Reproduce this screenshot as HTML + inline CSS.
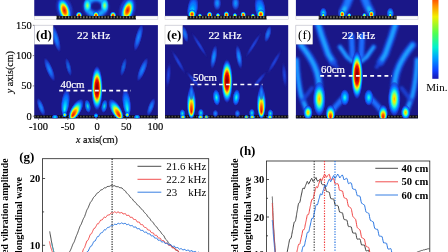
<!DOCTYPE html>
<html><head><meta charset="utf-8"><title>figure</title>
<style>
html,body{margin:0;padding:0;background:#fff;}
body{width:448px;height:252px;overflow:hidden;}
svg{display:block;font-family:"Liberation Serif","Times New Roman",serif;}
</style></head><body>
<svg width="448" height="252" viewBox="0 0 448 252">
<defs>
<radialGradient id="g5"><stop offset="0" stop-color="#800000"/><stop offset="0.2" stop-color="#b00000"/><stop offset="0.36" stop-color="#f01000"/><stop offset="0.45" stop-color="#ff8000"/><stop offset="0.52" stop-color="#ffe800"/><stop offset="0.6" stop-color="#70ff80"/><stop offset="0.69" stop-color="#00d8ff"/><stop offset="0.8" stop-color="#1070ff"/><stop offset="0.9" stop-color="#1a38d8" stop-opacity="0.7"/><stop offset="1" stop-color="#1a1788" stop-opacity="0"/></radialGradient>
<radialGradient id="g5f" fx="0.5" fy="0.78"><stop offset="0" stop-color="#800000"/><stop offset="0.2" stop-color="#b00000"/><stop offset="0.36" stop-color="#f01000"/><stop offset="0.45" stop-color="#ff8000"/><stop offset="0.52" stop-color="#ffe800"/><stop offset="0.6" stop-color="#70ff80"/><stop offset="0.69" stop-color="#00d8ff"/><stop offset="0.8" stop-color="#1070ff"/><stop offset="0.9" stop-color="#1a38d8" stop-opacity="0.7"/><stop offset="1" stop-color="#1a1788" stop-opacity="0"/></radialGradient>
<radialGradient id="g4"><stop offset="0" stop-color="#e01800"/><stop offset="0.2" stop-color="#ff5000"/><stop offset="0.32" stop-color="#ffa000"/><stop offset="0.42" stop-color="#fff000"/><stop offset="0.52" stop-color="#70ff80"/><stop offset="0.63" stop-color="#00d8ff"/><stop offset="0.77" stop-color="#1070ff"/><stop offset="0.9" stop-color="#1a38d8" stop-opacity="0.7"/><stop offset="1" stop-color="#1a1788" stop-opacity="0"/></radialGradient>
<radialGradient id="g4f" fx="0.5" fy="0.78"><stop offset="0" stop-color="#e01800"/><stop offset="0.2" stop-color="#ff5000"/><stop offset="0.32" stop-color="#ffa000"/><stop offset="0.42" stop-color="#fff000"/><stop offset="0.52" stop-color="#70ff80"/><stop offset="0.63" stop-color="#00d8ff"/><stop offset="0.77" stop-color="#1070ff"/><stop offset="0.9" stop-color="#1a38d8" stop-opacity="0.7"/><stop offset="1" stop-color="#1a1788" stop-opacity="0"/></radialGradient>
<radialGradient id="g3"><stop offset="0" stop-color="#ffb000"/><stop offset="0.16" stop-color="#ffe800"/><stop offset="0.3" stop-color="#a0ff50"/><stop offset="0.44" stop-color="#30ffd0"/><stop offset="0.58" stop-color="#00b8ff"/><stop offset="0.74" stop-color="#1068ff"/><stop offset="0.9" stop-color="#1a38d8" stop-opacity="0.7"/><stop offset="1" stop-color="#1a1788" stop-opacity="0"/></radialGradient>
<radialGradient id="g3f" fx="0.5" fy="0.78"><stop offset="0" stop-color="#ffb000"/><stop offset="0.16" stop-color="#ffe800"/><stop offset="0.3" stop-color="#a0ff50"/><stop offset="0.44" stop-color="#30ffd0"/><stop offset="0.58" stop-color="#00b8ff"/><stop offset="0.74" stop-color="#1068ff"/><stop offset="0.9" stop-color="#1a38d8" stop-opacity="0.7"/><stop offset="1" stop-color="#1a1788" stop-opacity="0"/></radialGradient>
<radialGradient id="g2"><stop offset="0" stop-color="#40ffc0"/><stop offset="0.22" stop-color="#00d8ff"/><stop offset="0.45" stop-color="#0090ff"/><stop offset="0.68" stop-color="#1060f8"/><stop offset="0.87" stop-color="#1a38d8" stop-opacity="0.7"/><stop offset="1" stop-color="#1a1788" stop-opacity="0"/></radialGradient>
<radialGradient id="g2f" fx="0.5" fy="0.78"><stop offset="0" stop-color="#40ffc0"/><stop offset="0.22" stop-color="#00d8ff"/><stop offset="0.45" stop-color="#0090ff"/><stop offset="0.68" stop-color="#1060f8"/><stop offset="0.87" stop-color="#1a38d8" stop-opacity="0.7"/><stop offset="1" stop-color="#1a1788" stop-opacity="0"/></radialGradient>
<radialGradient id="g3b"><stop offset="0" stop-color="#c0ff40"/><stop offset="0.25" stop-color="#60ffa0"/><stop offset="0.5" stop-color="#10e0ff"/><stop offset="0.75" stop-color="#10a0ff" stop-opacity="0.8"/><stop offset="1" stop-color="#1880ff" stop-opacity="0"/></radialGradient>
<radialGradient id="g3bf" fx="0.5" fy="0.78"><stop offset="0" stop-color="#c0ff40"/><stop offset="0.25" stop-color="#60ffa0"/><stop offset="0.5" stop-color="#10e0ff"/><stop offset="0.75" stop-color="#10a0ff" stop-opacity="0.8"/><stop offset="1" stop-color="#1880ff" stop-opacity="0"/></radialGradient>
<radialGradient id="g1"><stop offset="0" stop-color="#1488ff"/><stop offset="0.42" stop-color="#1668f4" stop-opacity="0.95"/><stop offset="0.76" stop-color="#1a40dc" stop-opacity="0.65"/><stop offset="1" stop-color="#1a1788" stop-opacity="0"/></radialGradient>
<radialGradient id="g1f" fx="0.5" fy="0.78"><stop offset="0" stop-color="#1488ff"/><stop offset="0.42" stop-color="#1668f4" stop-opacity="0.95"/><stop offset="0.76" stop-color="#1a40dc" stop-opacity="0.65"/><stop offset="1" stop-color="#1a1788" stop-opacity="0"/></radialGradient>
<radialGradient id="g1b"><stop offset="0" stop-color="#10a0ff"/><stop offset="0.4" stop-color="#1470f8" stop-opacity="0.95"/><stop offset="0.75" stop-color="#1a40d8" stop-opacity="0.6"/><stop offset="1" stop-color="#1a1788" stop-opacity="0"/></radialGradient>
<radialGradient id="g1bf" fx="0.5" fy="0.78"><stop offset="0" stop-color="#10a0ff"/><stop offset="0.4" stop-color="#1470f8" stop-opacity="0.95"/><stop offset="0.75" stop-color="#1a40d8" stop-opacity="0.6"/><stop offset="1" stop-color="#1a1788" stop-opacity="0"/></radialGradient>
<radialGradient id="g0"><stop offset="0" stop-color="#1c48e0"/><stop offset="0.5" stop-color="#1c34c8" stop-opacity="0.8"/><stop offset="1" stop-color="#1a1788" stop-opacity="0"/></radialGradient>
<radialGradient id="g0f" fx="0.5" fy="0.78"><stop offset="0" stop-color="#1c48e0"/><stop offset="0.5" stop-color="#1c34c8" stop-opacity="0.8"/><stop offset="1" stop-color="#1a1788" stop-opacity="0"/></radialGradient>
<linearGradient id="cb" x1="0" y1="0" x2="0" y2="1"><stop offset="0" stop-color="#ff3000"/><stop offset="0.12" stop-color="#ff9000"/><stop offset="0.25" stop-color="#f0f000"/><stop offset="0.45" stop-color="#50ff50"/><stop offset="0.62" stop-color="#00f0d0"/><stop offset="0.75" stop-color="#00a0ff"/><stop offset="0.9" stop-color="#1040ff"/><stop offset="1" stop-color="#1a18b0"/></linearGradient>
<pattern id="dots" x="0" y="15.5" width="3.05" height="4" patternUnits="userSpaceOnUse"><rect width="3.05" height="4" fill="#0c0c18"/><circle cx="1.5" cy="1.7" r="0.75" fill="#c8c0a0"/></pattern><pattern id="dots2" x="0" y="115.3" width="3.05" height="3" patternUnits="userSpaceOnUse"><rect width="3.05" height="3" fill="#0c0c18"/><circle cx="1.5" cy="1.3" r="0.6" fill="#a8a070"/></pattern>
<filter id="bl2" x="-60%" y="-60%" width="220%" height="220%"><feGaussianBlur stdDeviation="1.1"/></filter>
<filter id="bl" x="-5%" y="-5%" width="110%" height="110%"><feGaussianBlur stdDeviation="0.45"/></filter>
<clipPath id="cd"><rect x="34.25" y="25.1" width="123.65" height="93.2"/></clipPath>
<clipPath id="td"><rect x="34.25" y="0" width="123.65" height="16.1"/></clipPath>
<clipPath id="ce"><rect x="165.0" y="25.1" width="123.2" height="93.2"/></clipPath>
<clipPath id="te"><rect x="165.0" y="0" width="123.2" height="16.1"/></clipPath>
<clipPath id="cf"><rect x="295.9" y="25.1" width="122.1" height="93.2"/></clipPath>
<clipPath id="tf"><rect x="295.9" y="0" width="122.1" height="16.1"/></clipPath>
<clipPath id="cg"><rect x="42.5" y="158.7" width="166.2" height="100"/></clipPath>
<clipPath id="ch"><rect x="266.4" y="161" width="163.4" height="100"/></clipPath>
</defs>
<rect width="448" height="252" fill="#fff"/>

<rect x="34.25" y="0" width="123.65" height="16.1" fill="#1a1788"/>
<rect x="34.25" y="16.1" width="123.65" height="3.4" fill="#fafafc" stroke="#c4c4cc" stroke-width="0.45"/>
<rect x="56.4" y="15.5" width="79.6" height="4" fill="url(#dots)"/>
<g clip-path="url(#td)" filter="url(#bl)">
<ellipse cx="64.5" cy="9" rx="9.5" ry="15" fill="url(#g1b)" transform="rotate(-16 64.5 9)"/>
<ellipse cx="127.5" cy="9" rx="9.5" ry="15" fill="url(#g1b)" transform="rotate(16 127.5 9)"/>
<ellipse cx="64.4" cy="10.4" rx="6.6" ry="13.5" fill="url(#g4)" transform="rotate(-17 64.4 10.4)"/>
<ellipse cx="127.6" cy="10.4" rx="6.6" ry="13.5" fill="url(#g4)" transform="rotate(17 127.6 10.4)"/>
<g filter="url(#bl2)"><ellipse cx="96.0" cy="6.5" rx="9" ry="8" fill="none" stroke="#1a58f0" stroke-width="7"/><ellipse cx="96.0" cy="6.5" rx="9" ry="8" fill="none" stroke="#18b0ff" stroke-width="3"/></g>
<ellipse cx="87.4" cy="5.6" rx="4.2" ry="7.5" fill="url(#g3b)"/>
<ellipse cx="104.6" cy="5.6" rx="4.2" ry="7.5" fill="url(#g3b)"/>
<ellipse cx="96.0" cy="15.4" rx="3.6" ry="4.4" fill="url(#g4)"/>
<ellipse cx="79.0" cy="15.4" rx="3.4" ry="4" fill="url(#g4)"/>
<ellipse cx="113.0" cy="15.4" rx="3.4" ry="4" fill="url(#g4)"/>
</g>
<rect x="165.0" y="0" width="123.2" height="16.1" fill="#1a1788"/>
<rect x="165.0" y="16.1" width="123.2" height="3.4" fill="#fafafc" stroke="#c4c4cc" stroke-width="0.45"/>
<rect x="187.3" y="15.5" width="79.30000000000001" height="4" fill="url(#dots)"/>
<g clip-path="url(#te)" filter="url(#bl)">
<ellipse cx="192.8" cy="7.5" rx="5.6" ry="13" fill="url(#g2f)" transform="rotate(9 192.8 7.5)"/>
<ellipse cx="260.0" cy="7.5" rx="5.6" ry="13" fill="url(#g2f)" transform="rotate(-9 260.0 7.5)"/>
<ellipse cx="192.0" cy="14.2" rx="4.2" ry="5" fill="url(#g4)"/>
<ellipse cx="260.8" cy="14.2" rx="4.2" ry="5" fill="url(#g4)"/>
<ellipse cx="217.2" cy="3.2" rx="4.4" ry="8" fill="url(#g1b)"/>
<ellipse cx="235.6" cy="3.2" rx="4.4" ry="8" fill="url(#g1b)"/>
<ellipse cx="226.4" cy="14.8" rx="3" ry="3.8" fill="url(#g4)"/>
<ellipse cx="209.6" cy="14.9" rx="2.9" ry="3.6" fill="url(#g4)"/>
<ellipse cx="243.2" cy="14.9" rx="2.9" ry="3.6" fill="url(#g4)"/>
<ellipse cx="217.9" cy="15.5" rx="2.4" ry="2.8" fill="url(#g3)"/>
<ellipse cx="234.9" cy="15.5" rx="2.4" ry="2.8" fill="url(#g3)"/>
<ellipse cx="199.9" cy="15.7" rx="2.2" ry="2.4" fill="url(#g3)"/>
<ellipse cx="252.9" cy="15.7" rx="2.2" ry="2.4" fill="url(#g3)"/>
</g>
<rect x="295.9" y="0" width="122.1" height="16.1" fill="#1a1788"/>
<rect x="295.9" y="16.1" width="122.1" height="3.4" fill="#fafafc" stroke="#c4c4cc" stroke-width="0.45"/>
<rect x="318.6" y="15.5" width="78.0" height="4" fill="url(#dots)"/>
<g clip-path="url(#tf)" filter="url(#bl)">
<g filter="url(#bl2)"><path d="M342.5 13 L346.5 5 L350 -4" fill="none" stroke="#1a4ce4" stroke-width="9" stroke-linecap="round"/><path d="M342.5 13 L346.5 5 L350 -4" fill="none" stroke="#1a7cff" stroke-width="5" stroke-linecap="round"/><path d="M342.5 13 L345 8" fill="none" stroke="#20c0ff" stroke-width="3" stroke-linecap="round"/></g>
<g filter="url(#bl2)" transform="translate(713.60,0) scale(-1,1)"><path d="M342.5 13 L346.5 5 L350 -4" fill="none" stroke="#1a4ce4" stroke-width="9" stroke-linecap="round"/><path d="M342.5 13 L346.5 5 L350 -4" fill="none" stroke="#1a7cff" stroke-width="5" stroke-linecap="round"/><path d="M342.5 13 L345 8" fill="none" stroke="#20c0ff" stroke-width="3" stroke-linecap="round"/></g>
<ellipse cx="342.2" cy="14.2" rx="3.2" ry="4.2" fill="url(#g4)"/>
<ellipse cx="371.4" cy="14.2" rx="3.2" ry="4.2" fill="url(#g4)"/>
<ellipse cx="349.2" cy="15.4" rx="2.3" ry="2.6" fill="url(#g3)"/>
<ellipse cx="364.4" cy="15.4" rx="2.3" ry="2.6" fill="url(#g3)"/>
<ellipse cx="323.3" cy="13.4" rx="3.8" ry="6" fill="url(#g2)" opacity="0.95"/>
<ellipse cx="390.3" cy="13.4" rx="3.8" ry="6" fill="url(#g2)" opacity="0.95"/>
<ellipse cx="323.3" cy="15.2" rx="2" ry="2.2" fill="url(#g3)"/>
<ellipse cx="390.3" cy="15.2" rx="2" ry="2.2" fill="url(#g3)"/>
</g>
<rect x="34.25" y="25.1" width="123.65" height="93.2" fill="#1a1788"/>
<rect x="34.25" y="115.3" width="123.65" height="3" fill="url(#dots2)"/>
<g clip-path="url(#cd)" filter="url(#bl)">
<ellipse cx="56.0" cy="38.5" rx="3.6" ry="15" fill="url(#g1)" transform="rotate(-15 56.0 38.5)"/>
<ellipse cx="138.5" cy="37.5" rx="3.6" ry="15" fill="url(#g1)" transform="rotate(15 138.5 37.5)"/>
<ellipse cx="49.5" cy="69.5" rx="3.6" ry="13.5" fill="url(#g1)" transform="rotate(-22 49.5 69.5)"/>
<ellipse cx="142.5" cy="69.5" rx="3.6" ry="13.5" fill="url(#g1)" transform="rotate(22 142.5 69.5)"/>
<ellipse cx="68.5" cy="67" rx="2.8" ry="10" fill="url(#g1)" transform="rotate(-14 68.5 67)" opacity="0.75"/>
<ellipse cx="123.5" cy="67" rx="2.8" ry="10" fill="url(#g1)" transform="rotate(14 123.5 67)" opacity="0.75"/>
<ellipse cx="65.5" cy="102" rx="4.4" ry="14" fill="url(#g2f)" transform="rotate(7 65.5 102)"/>
<ellipse cx="126.5" cy="102" rx="4.4" ry="14" fill="url(#g2f)" transform="rotate(-7 126.5 102)"/>
<ellipse cx="41.0" cy="107" rx="3.2" ry="10" fill="url(#g1)" transform="rotate(-20 41.0 107)"/>
<ellipse cx="151.0" cy="107" rx="3.2" ry="10" fill="url(#g1)" transform="rotate(20 151.0 107)"/>
<ellipse cx="87.7" cy="106.2" rx="3.2" ry="7" fill="url(#g2)" transform="rotate(-10 87.7 106.2)" opacity="0.85"/>
<ellipse cx="104.3" cy="106.2" rx="3.2" ry="7" fill="url(#g2)" transform="rotate(10 104.3 106.2)" opacity="0.85"/>
<ellipse cx="76.2" cy="109.5" rx="5.4" ry="12.5" fill="url(#g4f)" transform="rotate(30 76.2 109.5)"/>
<ellipse cx="115.8" cy="109.5" rx="5.4" ry="12.5" fill="url(#g4f)" transform="rotate(-30 115.8 109.5)"/>
<ellipse cx="64.7" cy="114.8" rx="2.4" ry="2.6" fill="url(#g3)"/>
<ellipse cx="127.3" cy="114.8" rx="2.4" ry="2.6" fill="url(#g3)"/>
<ellipse cx="55.0" cy="117" rx="3.4" ry="2.6" fill="url(#g2)" opacity="0.95"/>
<ellipse cx="137.0" cy="117" rx="3.4" ry="2.6" fill="url(#g2)" opacity="0.95"/>
<ellipse cx="96.0" cy="115.6" rx="2.4" ry="2.6" fill="url(#g2)"/>
<ellipse cx="97.0" cy="88.3" rx="6" ry="23" fill="url(#g5)"/>
</g>
<rect x="165.0" y="25.1" width="123.2" height="93.2" fill="#1a1788"/>
<rect x="165.0" y="115.3" width="123.2" height="3" fill="url(#dots2)"/>
<g clip-path="url(#ce)" filter="url(#bl)">
<ellipse cx="184.9" cy="34" rx="3.2" ry="9" fill="url(#g1)" transform="rotate(-16 184.9 34)" opacity="0.9"/>
<ellipse cx="267.9" cy="34" rx="3.2" ry="9" fill="url(#g1)" transform="rotate(16 267.9 34)" opacity="0.9"/>
<ellipse cx="213.8" cy="57" rx="3.4" ry="13" fill="url(#g1b)" transform="rotate(9 213.8 57)"/>
<ellipse cx="239.0" cy="57" rx="3.4" ry="13" fill="url(#g1b)" transform="rotate(-9 239.0 57)"/>
<ellipse cx="199.4" cy="45" rx="2.4" ry="16" fill="url(#g0)" transform="rotate(-32 199.4 45)"/>
<ellipse cx="253.4" cy="45" rx="2.4" ry="16" fill="url(#g0)" transform="rotate(32 253.4 45)"/>
<ellipse cx="178.4" cy="62" rx="2.6" ry="15" fill="url(#g0)" transform="rotate(-30 178.4 62)"/>
<ellipse cx="274.4" cy="62" rx="2.6" ry="15" fill="url(#g0)" transform="rotate(30 274.4 62)"/>
<ellipse cx="193.4" cy="80" rx="2.6" ry="12" fill="url(#g0)" transform="rotate(-40 193.4 80)"/>
<ellipse cx="259.4" cy="80" rx="2.6" ry="12" fill="url(#g0)" transform="rotate(40 259.4 80)"/>
<ellipse cx="168.4" cy="75" rx="3" ry="14" fill="url(#g0)" transform="rotate(5 168.4 75)"/>
<ellipse cx="284.4" cy="75" rx="3" ry="14" fill="url(#g0)" transform="rotate(-5 284.4 75)"/>
<ellipse cx="191.4" cy="102.5" rx="4.8" ry="16.5" fill="url(#g4f)"/>
<ellipse cx="261.4" cy="102.5" rx="4.8" ry="16.5" fill="url(#g4f)"/>
<ellipse cx="191.4" cy="92" rx="2.6" ry="9" fill="url(#g1)" opacity="0.9"/>
<ellipse cx="261.4" cy="92" rx="2.6" ry="9" fill="url(#g1)" opacity="0.9"/>
<ellipse cx="216.5" cy="97.5" rx="3.8" ry="8.5" fill="url(#g2)" transform="rotate(-6 216.5 97.5)"/>
<ellipse cx="236.3" cy="97.5" rx="3.8" ry="8.5" fill="url(#g2)" transform="rotate(6 236.3 97.5)"/>
<ellipse cx="215.4" cy="113.5" rx="3" ry="4" fill="url(#g1)"/>
<ellipse cx="237.4" cy="113.5" rx="3" ry="4" fill="url(#g1)"/>
<ellipse cx="182.4" cy="113.5" rx="3" ry="4.5" fill="url(#g2)" opacity="0.9"/>
<ellipse cx="270.4" cy="113.5" rx="3" ry="4.5" fill="url(#g2)" opacity="0.9"/>
<ellipse cx="200.9" cy="113" rx="3" ry="4.5" fill="url(#g2)" opacity="0.9"/>
<ellipse cx="251.9" cy="113" rx="3" ry="4.5" fill="url(#g2)" opacity="0.9"/>
<ellipse cx="182.9" cy="117" rx="3" ry="2.4" fill="url(#g3)" opacity="0.9"/>
<ellipse cx="269.9" cy="117" rx="3" ry="2.4" fill="url(#g3)" opacity="0.9"/>
<ellipse cx="200.6" cy="117" rx="3" ry="2.4" fill="url(#g3)" opacity="0.9"/>
<ellipse cx="252.2" cy="117" rx="3" ry="2.4" fill="url(#g3)" opacity="0.9"/>
<ellipse cx="206.4" cy="117" rx="2.4" ry="2.2" fill="url(#g3)" opacity="0.8"/>
<ellipse cx="246.4" cy="117" rx="2.4" ry="2.2" fill="url(#g3)" opacity="0.8"/>
<ellipse cx="227.0" cy="81.2" rx="6" ry="22.5" fill="url(#g5)"/>
</g>
<rect x="295.9" y="25.1" width="122.1" height="93.2" fill="#1a1788"/>
<rect x="295.9" y="115.3" width="122.1" height="3" fill="url(#dots2)"/>
<g clip-path="url(#cf)" filter="url(#bl)">
<g filter="url(#bl2)">
<path d="M317.5 22 L321.8 36 L328.2 54 L333 62" fill="none" stroke="#1a44dc" stroke-width="8.2" stroke-linecap="round" opacity="0.9"/>
<path d="M317.5 22 L321.8 36 L328.2 54 L333 62" fill="none" stroke="#1a44dc" stroke-width="8.2" stroke-linecap="round" opacity="0.9" transform="translate(713.60,0) scale(-1,1)"/>
<path d="M317.5 22 L321.8 36 L328.2 54 L333 62" fill="none" stroke="#1a70ff" stroke-width="5.084" stroke-linecap="round" opacity="1"/>
<path d="M317.5 22 L321.8 36 L328.2 54 L333 62" fill="none" stroke="#1a70ff" stroke-width="5.084" stroke-linecap="round" opacity="1" transform="translate(713.60,0) scale(-1,1)"/>
<path d="M317.5 22 L321.8 36 L328.2 54 L333 62" fill="none" stroke="#22acff" stroke-width="2.4599999999999995" stroke-linecap="round" opacity="1"/>
<path d="M317.5 22 L321.8 36 L328.2 54 L333 62" fill="none" stroke="#22acff" stroke-width="2.4599999999999995" stroke-linecap="round" opacity="1" transform="translate(713.60,0) scale(-1,1)"/>
<path d="M333 62 L337 67" fill="none" stroke="#1a48e0" stroke-width="4" stroke-linecap="round" opacity="0.8"/>
<path d="M333 62 L337 67" fill="none" stroke="#1a48e0" stroke-width="4" stroke-linecap="round" opacity="0.8" transform="translate(713.60,0) scale(-1,1)"/>
<path d="M301 45 Q310 56 314.5 66 Q320 78 319.5 96" fill="none" stroke="#1a44dc" stroke-width="8" stroke-linecap="round" opacity="0.9"/>
<path d="M301 45 Q310 56 314.5 66 Q320 78 319.5 96" fill="none" stroke="#1a44dc" stroke-width="8" stroke-linecap="round" opacity="0.9" transform="translate(713.60,0) scale(-1,1)"/>
<path d="M301 45 Q310 56 314.5 66 Q320 78 319.5 96" fill="none" stroke="#1a70ff" stroke-width="4.96" stroke-linecap="round" opacity="1"/>
<path d="M301 45 Q310 56 314.5 66 Q320 78 319.5 96" fill="none" stroke="#1a70ff" stroke-width="4.96" stroke-linecap="round" opacity="1" transform="translate(713.60,0) scale(-1,1)"/>
<path d="M301 45 Q310 56 314.5 66 Q320 78 319.5 96" fill="none" stroke="#22acff" stroke-width="2.4" stroke-linecap="round" opacity="1"/>
<path d="M301 45 Q310 56 314.5 66 Q320 78 319.5 96" fill="none" stroke="#22acff" stroke-width="2.4" stroke-linecap="round" opacity="1" transform="translate(713.60,0) scale(-1,1)"/>
<path d="M340 47 L347 57 L352 61" fill="none" stroke="#1a44dc" stroke-width="5.6" stroke-linecap="round" opacity="0.9"/>
<path d="M340 47 L347 57 L352 61" fill="none" stroke="#1a44dc" stroke-width="5.6" stroke-linecap="round" opacity="0.9" transform="translate(713.60,0) scale(-1,1)"/>
<path d="M340 47 L347 57 L352 61" fill="none" stroke="#1a70ff" stroke-width="3.472" stroke-linecap="round" opacity="1"/>
<path d="M340 47 L347 57 L352 61" fill="none" stroke="#1a70ff" stroke-width="3.472" stroke-linecap="round" opacity="1" transform="translate(713.60,0) scale(-1,1)"/>
<path d="M340 47 L347 57 L352 61" fill="none" stroke="#22acff" stroke-width="1.68" stroke-linecap="round" opacity="1"/>
<path d="M340 47 L347 57 L352 61" fill="none" stroke="#22acff" stroke-width="1.68" stroke-linecap="round" opacity="1" transform="translate(713.60,0) scale(-1,1)"/>
<path d="M351.5 36 L352.5 56" fill="none" stroke="#1a44dc" stroke-width="6.5" stroke-linecap="round" opacity="0.9"/>
<path d="M351.5 36 L352.5 56" fill="none" stroke="#1a44dc" stroke-width="6.5" stroke-linecap="round" opacity="0.9" transform="translate(713.60,0) scale(-1,1)"/>
<path d="M351.5 36 L352.5 56" fill="none" stroke="#1a70ff" stroke-width="4.03" stroke-linecap="round" opacity="1"/>
<path d="M351.5 36 L352.5 56" fill="none" stroke="#1a70ff" stroke-width="4.03" stroke-linecap="round" opacity="1" transform="translate(713.60,0) scale(-1,1)"/>
<path d="M296.5 60 Q297.5 80 301 95 Q305 106 307.5 112" fill="none" stroke="#1a44dc" stroke-width="6.4" stroke-linecap="round" opacity="0.9"/>
<path d="M296.5 60 Q297.5 80 301 95 Q305 106 307.5 112" fill="none" stroke="#1a44dc" stroke-width="6.4" stroke-linecap="round" opacity="0.9" transform="translate(713.60,0) scale(-1,1)"/>
<path d="M296.5 60 Q297.5 80 301 95 Q305 106 307.5 112" fill="none" stroke="#1a70ff" stroke-width="3.968" stroke-linecap="round" opacity="1"/>
<path d="M296.5 60 Q297.5 80 301 95 Q305 106 307.5 112" fill="none" stroke="#1a70ff" stroke-width="3.968" stroke-linecap="round" opacity="1" transform="translate(713.60,0) scale(-1,1)"/>
<path d="M296.5 60 Q297.5 80 301 95 Q305 106 307.5 112" fill="none" stroke="#22acff" stroke-width="1.92" stroke-linecap="round" opacity="1"/>
<path d="M296.5 60 Q297.5 80 301 95 Q305 106 307.5 112" fill="none" stroke="#22acff" stroke-width="1.92" stroke-linecap="round" opacity="1" transform="translate(713.60,0) scale(-1,1)"/>
<path d="M345 96 L336 106 L330.5 113" fill="none" stroke="#1a44dc" stroke-width="6.4" stroke-linecap="round" opacity="0.9"/>
<path d="M345 96 L336 106 L330.5 113" fill="none" stroke="#1a44dc" stroke-width="6.4" stroke-linecap="round" opacity="0.9" transform="translate(713.60,0) scale(-1,1)"/>
<path d="M345 96 L336 106 L330.5 113" fill="none" stroke="#1a70ff" stroke-width="3.968" stroke-linecap="round" opacity="1"/>
<path d="M345 96 L336 106 L330.5 113" fill="none" stroke="#1a70ff" stroke-width="3.968" stroke-linecap="round" opacity="1" transform="translate(713.60,0) scale(-1,1)"/>
<path d="M303 100 L312 88" fill="none" stroke="#1a48e0" stroke-width="4" stroke-linecap="round" opacity="0.8"/>
<path d="M303 100 L312 88" fill="none" stroke="#1a48e0" stroke-width="4" stroke-linecap="round" opacity="0.8" transform="translate(713.60,0) scale(-1,1)"/>
</g>
<ellipse cx="319.3" cy="99" rx="6.6" ry="17.5" fill="url(#g3)"/>
<ellipse cx="394.3" cy="99" rx="6.6" ry="17.5" fill="url(#g3)"/>
<ellipse cx="344.8" cy="97.5" rx="4.8" ry="8.5" fill="url(#g2)"/>
<ellipse cx="368.8" cy="97.5" rx="4.8" ry="8.5" fill="url(#g2)"/>
<ellipse cx="308.0" cy="112.5" rx="4.8" ry="7.5" fill="url(#g3)"/>
<ellipse cx="405.6" cy="112.5" rx="4.8" ry="7.5" fill="url(#g3)"/>
<ellipse cx="330.5" cy="112.8" rx="5" ry="8.5" fill="url(#g4f)"/>
<ellipse cx="383.1" cy="112.8" rx="5" ry="8.5" fill="url(#g4f)"/>
<ellipse cx="357.0" cy="75" rx="6.2" ry="25" fill="url(#g5)"/>
</g>
<rect x="34.25" y="25.1" width="18.8" height="19.1" fill="#fff" stroke="#b8b8b8" stroke-width="0.4"/>
<text x="43.949999999999996" y="38.5" font-size="13" font-weight="bold" text-anchor="middle" fill="#000">(d)</text>
<rect x="165.0" y="25.1" width="17.6" height="19.1" fill="#fff" stroke="#b8b8b8" stroke-width="0.4"/>
<text x="174.10000000000002" y="38.5" font-size="13" font-weight="bold" text-anchor="middle" fill="#000">(e)</text>
<rect x="295.9" y="25.1" width="16.8" height="19.1" fill="#fff" stroke="#b8b8b8" stroke-width="0.4"/>
<text x="304.59999999999997" y="38.5" font-size="13" font-weight="normal" text-anchor="middle" fill="#000">(f)</text>
<text x="93.6" y="39" font-size="11.4" text-anchor="middle" fill="#fff" stroke="#fff" stroke-width="0.2">22 kHz</text>
<text x="225" y="39" font-size="11.4" text-anchor="middle" fill="#fff" stroke="#fff" stroke-width="0.2">22 kHz</text>
<text x="358.6" y="39" font-size="11.4" text-anchor="middle" fill="#fff" stroke="#fff" stroke-width="0.2">22 kHz</text>
<line x1="59.2" y1="90.7" x2="131" y2="90.7" stroke="#fff" stroke-width="1.7" stroke-dasharray="3.9 3.24"/>
<text x="60.5" y="88" font-size="10.8" fill="#fff" stroke="#fff" stroke-width="0.2">40cm</text>
<line x1="190.4" y1="84.5" x2="262.5" y2="84.5" stroke="#fff" stroke-width="1.7" stroke-dasharray="3.9 3.24"/>
<text x="193" y="81.4" font-size="10.8" fill="#fff" stroke="#fff" stroke-width="0.2">50cm</text>
<line x1="320.2" y1="75.8" x2="392" y2="75.8" stroke="#fff" stroke-width="1.7" stroke-dasharray="3.9 3.24"/>
<text x="321" y="72.6" font-size="10.8" fill="#fff" stroke="#fff" stroke-width="0.2">60cm</text>
<rect x="432.3" y="-4" width="6.2" height="82.8" fill="url(#cb)"/>
<text x="426.3" y="91.3" font-size="11" fill="#000">Min.</text>
<text x="31.8" y="28.8" font-size="10.5" text-anchor="end" fill="#000" stroke="#000" stroke-width="0.15">150</text>
<text x="31.8" y="59.1" font-size="10.5" text-anchor="end" fill="#000" stroke="#000" stroke-width="0.15">100</text>
<text x="31.8" y="89.39999999999999" font-size="10.5" text-anchor="end" fill="#000" stroke="#000" stroke-width="0.15">50</text>
<text x="31.8" y="119.6" font-size="10.5" text-anchor="end" fill="#000" stroke="#000" stroke-width="0.15">0</text>
<text x="38.5" y="130.4" font-size="10.5" text-anchor="middle" fill="#000" stroke="#000" stroke-width="0.15">-100</text>
<text x="67.8" y="130.4" font-size="10.5" text-anchor="middle" fill="#000" stroke="#000" stroke-width="0.15">-50</text>
<text x="97" y="130.4" font-size="10.5" text-anchor="middle" fill="#000" stroke="#000" stroke-width="0.15">0</text>
<text x="126.3" y="130.4" font-size="10.5" text-anchor="middle" fill="#000" stroke="#000" stroke-width="0.15">50</text>
<text x="155.3" y="130.4" font-size="10.5" text-anchor="middle" fill="#000" stroke="#000" stroke-width="0.15">100</text>
<path d="M38.5 118.3v1.6M67.8 118.3v1.6M97 118.3v1.6M126.3 118.3v1.6M155.3 118.3v1.6M34.2 25.3h-1.4M34.2 55.6h-1.4M34.2 85.9h-1.4M34.2 116.2h-1.4" stroke="#333" stroke-width="0.6"/>
<text x="97" y="143.2" font-size="10" text-anchor="middle" fill="#000" stroke="#000" stroke-width="0.15"><tspan font-style="italic">x</tspan> axis(cm)</text>
<text transform="translate(13.3,72.2) rotate(-90)" font-size="10" text-anchor="middle" fill="#000" stroke="#000" stroke-width="0.15"><tspan font-style="italic">y</tspan> axis(cm)</text>
<rect x="42.5" y="158.7" width="166.2" height="110" fill="#fff" stroke="#222" stroke-width="0.8"/>
<text x="26.8" y="161" font-size="13" font-weight="bold" text-anchor="middle">(g)</text>
<text x="40.2" y="182.2" font-size="10.5" font-weight="bold" text-anchor="end">20</text>
<text x="40.2" y="249" font-size="10.5" font-weight="bold" text-anchor="end">10</text>
<path d="M42.5 178.5h2.6M42.5 245.3h2.6M42.5 211.9h1.6" stroke="#222" stroke-width="0.8" fill="none"/>
<text transform="translate(7.5,253.8) rotate(-90)" font-size="9.75" font-weight="bold" text-anchor="start">ed vibration amplitude</text>
<text transform="translate(21.5,253) rotate(-90)" font-size="10" font-weight="bold" text-anchor="start">  longitudinal wave</text>
<line x1="112.1" y1="158.7" x2="112.1" y2="252" stroke="#111" stroke-width="1.1" stroke-dasharray="1.2 1.3"/>
<path d="M49.7 231.4 L49.8 231.9 L49.9 232.6 L50.0 233.3 L50.2 234.1 L50.3 235.0 L50.5 236.0 L50.7 237.0 L50.9 238.1 L51.1 239.1 L51.2 240.1 L51.4 241.1 L51.6 242.1 L51.8 243.0 L52.0 243.9 L52.2 244.8 L52.4 245.8 L52.6 246.8 L52.8 247.8 L53.1 248.7 L53.3 249.7 L53.5 250.6 L53.7 251.4 L53.9 252.2 L54.0 252.9 L54.2 253.5 L54.3 254.0" fill="none" stroke="#3a3a3a" stroke-width="0.9" stroke-linejoin="round" clip-path="url(#cg)"/>
<path d="M49.4 241.4 L49.5 241.9 L49.7 242.6 L49.9 243.4 L50.1 244.3 L50.3 245.3 L50.5 246.2 L50.8 247.2 L51.0 248.0 L51.3 248.8 L51.6 249.7 L51.9 250.6 L52.2 251.4 L52.5 252.2 L52.8 252.9 L53.0 253.5 L53.2 254.0" fill="none" stroke="#f03c3c" stroke-width="0.9" stroke-linejoin="round" clip-path="url(#cg)"/>
<path d="M51.5 243.0 L51.6 243.6 L51.8 244.3 L52.0 245.2 L52.3 246.2 L52.5 247.2 L52.8 248.1 L53.0 249.0 L53.3 249.9 L53.6 250.9 L53.8 251.9 L54.1 252.7 L54.3 253.5 L54.5 254.0" fill="none" stroke="#40b0d0" stroke-width="0.7" stroke-linejoin="round" clip-path="url(#cg)"/>
<path d="M69.0 253.2 L69.0 253.1 L69.0 253.0 L69.2 252.5 L69.7 251.5 L69.9 251.2 L70.1 250.8 L70.4 250.5 L70.6 249.9 L70.9 249.2 L71.3 248.3 L71.6 247.5 L71.9 246.7 L72.3 245.7 L72.6 244.8 L73.0 244.0 L73.3 243.4 L73.7 242.8 L74.0 242.2 L74.4 241.4 L74.7 240.5 L75.0 239.6 L75.3 238.8 L75.6 238.0 L75.9 237.1 L76.2 236.3 L76.5 235.5 L76.8 234.8 L77.1 234.3 L77.3 233.7 L77.6 233.0 L77.9 232.2 L78.2 231.3 L78.5 230.4 L78.8 229.6 L79.1 228.8 L79.4 227.9 L79.7 227.1 L80.0 226.3 L80.3 225.7 L80.7 225.2 L81.0 224.6 L81.4 223.8 L81.7 222.9 L82.1 222.0 L82.4 221.1 L82.7 220.3 L83.1 219.4 L83.4 218.7 L83.7 218.1 L84.0 217.7 L84.2 217.3 L84.5 216.8 L84.7 216.3 L85.1 215.1 L85.4 214.3 L85.6 213.7 L85.8 213.1 L86.0 212.4 L86.4 211.3 L86.6 210.6 L86.9 210.0 L87.2 209.4 L87.5 208.9 L87.8 208.4 L88.2 207.7 L88.5 206.9 L88.9 205.9 L89.2 205.1 L89.6 204.2 L90.0 203.3 L90.3 202.5 L90.7 202.0 L91.1 201.6 L91.5 201.2 L91.9 200.5 L92.3 199.7 L92.7 199.0 L93.1 198.2 L93.5 197.5 L94.0 196.8 L94.4 196.5 L94.8 196.3 L95.3 195.9 L95.7 195.2 L96.2 194.4 L96.8 193.6 L97.4 192.9 L97.9 192.6 L98.5 192.5 L99.1 191.9 L99.7 191.2 L100.2 190.6 L100.8 190.0 L101.4 189.8 L102.1 189.8 L102.8 189.1 L103.6 188.5 L104.3 187.8 L105.0 187.8 L105.7 187.8 L106.4 187.3 L107.1 186.8 L108.0 186.2 L108.8 186.5 L109.5 186.3 L110.3 185.8 L111.2 185.4 L112.1 185.8 L113.0 186.0 L113.9 185.8 L114.9 185.7 L115.8 186.5 L116.8 186.7 L117.7 186.7 L118.6 186.8 L119.4 187.6 L120.0 187.8 L120.6 187.7 L121.2 187.8 L121.9 187.9 L122.7 189.0 L123.6 189.8 L124.0 190.0 L124.4 190.3 L124.8 190.6 L125.3 190.9 L125.7 191.5 L126.2 192.4 L126.7 193.1 L127.2 193.5 L127.7 194.0 L128.2 194.4 L128.7 194.8 L129.3 195.6 L129.8 196.6 L130.3 197.3 L130.9 197.7 L131.4 198.2 L131.9 198.6 L132.5 199.1 L133.0 200.0 L133.5 200.8 L133.9 201.3 L134.4 201.6 L134.9 202.0 L135.4 202.3 L135.8 202.7 L136.3 203.4 L136.8 204.3 L137.3 204.9 L137.8 205.2 L138.3 205.6 L138.8 205.9 L139.3 206.3 L139.8 207.0 L140.3 207.9 L140.8 208.5 L141.3 208.9 L141.8 209.3 L142.3 209.6 L142.7 210.0 L143.2 210.6 L143.7 211.6 L144.2 212.3 L144.6 212.7 L145.1 213.1 L145.6 213.5 L146.0 213.9 L146.5 214.4 L147.0 215.2 L147.4 216.1 L147.9 216.7 L148.3 217.1 L148.8 217.5 L149.2 217.9 L149.7 218.3 L150.1 218.9 L150.6 219.8 L151.0 220.6 L151.5 221.1 L151.9 221.5 L152.4 221.9 L152.8 222.3 L153.3 222.7 L153.7 223.4 L154.2 224.3 L154.7 225.1 L155.2 225.6 L155.7 226.0 L156.1 226.5 L156.6 226.9 L157.1 227.5 L157.6 228.4 L158.1 229.3 L158.6 229.7 L159.1 230.1 L159.5 230.6 L160.0 231.0 L160.4 231.5 L160.9 232.3 L161.3 233.1 L161.8 233.8 L162.2 234.1 L162.6 234.5 L163.0 234.9 L163.5 235.4 L164.0 236.0 L164.4 236.9 L164.8 237.8 L165.2 238.5 L165.6 239.0 L166.0 239.4 L166.4 239.9 L166.8 240.4 L167.2 240.8 L167.6 241.3 L168.0 242.2 L168.4 243.1 L168.9 243.6 L169.4 244.0 L169.9 244.4 L170.4 244.7 L170.9 245.1 L171.5 246.0 L172.1 246.8 L172.7 247.1 L173.3 247.5 L173.9 247.8 L174.5 248.2 L175.2 249.1 L175.7 249.8 L176.3 250.1 L176.9 250.4 L177.4 250.6 L177.9 250.9 L178.3 251.5 L178.7 252.2 L179.5 253.1 L180.2 253.6 L180.7 254.1 L181.1 254.5 L181.5 254.9 L181.8 255.5 L182.0 256.0" fill="none" stroke="#3a3a3a" stroke-width="0.9" stroke-linejoin="round" clip-path="url(#cg)"/>
<path d="M82.0 253.6 L82.2 253.1 L82.4 252.5 L82.6 251.9 L82.8 251.0 L83.1 250.1 L83.4 249.3 L83.7 248.7 L84.0 248.4 L84.3 248.1 L84.7 247.4 L85.0 246.3 L85.4 245.2 L85.8 244.1 L86.1 243.1 L86.5 242.0 L86.9 241.0 L87.2 240.6 L87.6 240.5 L87.9 240.3 L88.3 239.7 L88.6 238.7 L89.0 237.8 L89.4 236.9 L89.7 235.9 L90.1 234.9 L90.5 234.2 L90.9 233.9 L91.3 233.9 L91.7 233.4 L92.1 232.5 L92.5 231.6 L92.9 230.7 L93.2 229.9 L93.6 229.0 L94.0 228.4 L94.5 228.3 L95.0 228.2 L95.4 227.5 L95.9 226.5 L96.4 225.6 L96.9 224.6 L97.3 223.8 L97.8 223.6 L98.3 223.8 L98.8 223.4 L99.2 222.5 L99.7 221.7 L100.2 221.0 L100.6 220.1 L101.1 219.7 L101.7 220.1 L102.3 219.8 L102.9 218.9 L103.5 218.1 L104.1 217.2 L104.7 216.9 L105.3 217.5 L105.9 217.3 L106.5 216.5 L107.0 215.8 L107.6 215.0 L108.3 214.8 L108.9 215.3 L109.6 214.8 L110.2 213.9 L110.8 213.2 L111.5 212.6 L112.2 213.2 L112.9 213.2 L113.7 212.5 L114.5 211.8 L115.4 212.2 L116.4 212.9 L117.4 212.3 L118.3 211.7 L119.3 213.0 L120.3 212.9 L121.3 212.5 L122.3 212.8 L123.0 214.0 L123.7 213.9 L124.5 213.7 L125.2 213.5 L125.9 214.2 L126.6 215.5 L127.3 215.4 L128.0 215.4 L128.8 215.2 L129.5 216.2 L130.2 217.4 L130.9 217.3 L131.5 217.3 L132.1 217.2 L132.7 217.8 L133.3 219.1 L133.9 219.6 L134.5 219.5 L135.2 219.6 L135.8 219.6 L136.4 220.5 L137.0 221.8 L137.6 222.0 L138.2 222.0 L138.8 222.1 L139.4 222.2 L140.0 223.3 L140.5 224.4 L141.1 224.6 L141.6 224.6 L142.2 224.7 L142.7 224.7 L143.2 225.4 L143.8 226.7 L144.4 227.3 L144.9 227.3 L145.5 227.5 L146.1 227.5 L146.7 228.1 L147.3 229.5 L148.0 230.0 L148.5 230.0 L149.0 230.1 L149.6 230.1 L150.1 230.6 L150.7 231.9 L151.3 232.6 L151.8 232.6 L152.4 232.8 L153.0 232.8 L153.6 233.2 L154.2 234.6 L154.8 235.3 L155.4 235.3 L156.0 235.4 L156.6 235.4 L157.2 235.9 L157.7 237.3 L158.3 237.9 L158.9 237.9 L159.4 238.0 L160.0 238.0 L160.6 238.5 L161.2 239.9 L161.8 240.5 L162.4 240.5 L163.0 240.6 L163.6 240.6 L164.2 241.1 L164.8 242.5 L165.4 243.1 L165.9 243.0 L166.5 243.1 L167.1 243.1 L167.7 243.6 L168.2 244.9 L168.8 245.5 L169.4 245.5 L170.0 245.6 L170.7 245.6 L171.4 246.5 L172.1 247.8 L172.8 247.9 L173.5 247.9 L174.2 247.9 L174.9 248.7 L175.5 250.1 L176.2 250.2 L176.8 250.2 L177.4 250.2 L178.0 250.4 L178.5 251.4 L179.0 252.3 L179.4 252.6 L180.6 252.7 L181.3 252.7 L181.7 253.3 L182.0 254.0" fill="none" stroke="#f03c3c" stroke-width="0.9" stroke-linejoin="round" clip-path="url(#cg)"/>
<path d="M86.2 253.2 L86.4 252.7 L86.7 252.0 L87.1 251.6 L87.4 251.5 L87.8 251.5 L88.3 251.0 L88.7 250.0 L89.2 248.9 L89.7 247.9 L90.2 246.8 L90.7 246.2 L91.2 246.2 L91.7 245.9 L92.1 244.9 L92.6 244.0 L93.0 243.2 L93.4 242.2 L93.9 241.4 L94.3 241.2 L94.7 241.3 L95.2 241.0 L95.6 240.1 L96.0 239.2 L96.5 238.4 L96.9 237.5 L97.4 236.6 L97.8 236.5 L98.3 236.6 L98.8 236.3 L99.2 235.4 L99.7 234.6 L100.2 233.8 L100.8 232.9 L101.3 232.7 L101.9 233.0 L102.4 232.5 L103.0 231.6 L103.6 230.8 L104.1 229.9 L104.7 229.6 L105.3 230.0 L105.8 229.7 L106.4 228.9 L106.9 228.2 L107.5 227.5 L108.0 227.0 L108.8 227.5 L109.5 227.2 L110.2 226.3 L110.9 225.5 L111.6 225.1 L112.3 225.9 L113.0 225.7 L113.7 225.0 L114.4 224.3 L115.1 223.9 L116.0 224.9 L116.9 224.2 L117.8 223.5 L118.7 223.1 L119.6 224.1 L120.5 223.5 L121.4 222.9 L122.3 223.0 L123.2 224.0 L124.1 223.6 L125.0 223.2 L125.8 223.6 L126.7 224.8 L127.6 224.5 L128.5 224.2 L129.4 224.8 L130.1 225.9 L130.8 225.7 L131.6 225.6 L132.3 225.4 L133.0 226.3 L133.7 227.3 L134.4 227.1 L135.2 227.0 L135.9 226.9 L136.6 228.1 L137.3 228.9 L138.0 228.7 L138.7 228.6 L139.4 228.6 L140.1 229.9 L140.9 230.6 L141.6 230.4 L142.3 230.4 L143.0 230.4 L143.7 231.7 L144.4 232.3 L145.1 232.1 L145.8 232.1 L146.5 232.1 L147.2 233.4 L147.9 234.0 L148.6 233.8 L149.4 233.8 L150.1 234.0 L150.9 235.6 L151.5 235.9 L152.1 235.8 L152.7 235.8 L153.4 235.9 L154.0 237.0 L154.7 238.1 L155.3 238.1 L156.0 238.2 L156.6 238.1 L157.3 238.8 L158.0 240.2 L158.7 240.3 L159.4 240.2 L160.1 240.1 L160.7 240.6 L161.4 241.9 L162.1 242.0 L162.9 241.9 L163.6 241.7 L164.3 242.2 L165.0 243.5 L165.8 243.4 L166.5 243.3 L167.2 243.1 L168.0 243.9 L168.7 245.0 L169.4 244.8 L170.1 244.7 L170.8 244.5 L171.5 245.5 L172.2 246.5 L172.9 246.3 L173.6 246.2 L174.3 246.0 L175.0 247.0 L175.7 248.0 L176.4 247.7 L177.2 247.6 L177.9 247.4 L178.6 248.6 L179.4 249.2 L180.3 248.8 L181.1 248.5 L182.1 249.4 L183.0 250.0 L184.0 249.6 L184.9 249.2 L185.9 250.6 L186.8 250.5 L187.7 250.1 L188.6 250.0 L189.4 251.3 L190.2 251.2 L190.9 250.9 L192.1 250.6 L193.1 252.1 L194.1 251.7 L194.9 251.4 L195.6 251.4 L196.3 252.6 L197.0 252.7 L198.0 252.3 L198.9 252.0 L199.5 252.9 L200.0 253.0" fill="none" stroke="#2070e0" stroke-width="0.9" stroke-linejoin="round" clip-path="url(#cg)"/>
<line x1="137.5" y1="166.3" x2="161.3" y2="166.3" stroke="#3a3a3a" stroke-width="0.9"/>
<text x="166.3" y="170.0" font-size="10.9" fill="#000">21.6 kHz</text>
<line x1="137.5" y1="179.3" x2="161.3" y2="179.3" stroke="#f03c3c" stroke-width="0.9"/>
<text x="166.3" y="183.0" font-size="10.9" fill="#000">22.2 kHz</text>
<line x1="137.5" y1="192.2" x2="161.3" y2="192.2" stroke="#2070e0" stroke-width="0.9"/>
<text x="166.3" y="195.89999999999998" font-size="10.9" fill="#000">23</text>
<text x="206.4" y="195.9" font-size="10.9" text-anchor="end" fill="#000">kHz</text>
<rect x="266.4" y="161" width="163.4" height="110" fill="#fff" stroke="#222" stroke-width="0.8"/>
<text x="247.5" y="155" font-size="13" font-weight="bold" text-anchor="middle">(h)</text>
<text x="264.2" y="183.2" font-size="10.5" font-weight="bold" text-anchor="end">30</text>
<text x="264.2" y="220.7" font-size="10.5" font-weight="bold" text-anchor="end">20</text>
<text x="264.2" y="258.2" font-size="10.5" font-weight="bold" text-anchor="end">10</text>
<path d="M266.4 179.5h2.6M266.4 217h2.6M266.4 198.3h1.6M266.4 235.8h1.6" stroke="#222" stroke-width="0.8" fill="none"/>
<text transform="translate(238.3,253.8) rotate(-90)" font-size="9.75" font-weight="bold" text-anchor="start">ed vibration amplitude</text>
<text transform="translate(251,253) rotate(-90)" font-size="10" font-weight="bold" text-anchor="start">  longitudinal wave</text>
<line x1="314.2" y1="161" x2="314.2" y2="252" stroke="#444" stroke-width="1.15" stroke-dasharray="1.3 1.3"/>
<line x1="324.5" y1="161" x2="324.5" y2="252" stroke="#f03c3c" stroke-width="1.15" stroke-dasharray="1.3 1.3"/>
<line x1="335" y1="161" x2="335" y2="252" stroke="#2070e0" stroke-width="1.15" stroke-dasharray="1.3 1.3"/>
<path d="M272.3 196.5 L272.3 197.0 L272.3 197.6 L272.4 198.3 L272.4 199.0 L272.4 199.7 L272.5 200.5 L272.5 201.4 L272.5 202.3 L272.6 203.2 L272.6 204.2 L272.6 205.2 L272.7 206.2 L272.7 207.3 L272.8 208.4 L272.8 209.5 L272.8 210.6 L272.9 211.7 L272.9 212.9 L273.0 214.0 L273.0 215.2 L273.1 216.3 L273.1 217.5 L273.2 218.6 L273.2 219.7 L273.3 220.8 L273.3 221.9 L273.4 223.0 L273.4 224.0 L273.5 225.0 L273.6 225.9 L273.6 226.9 L273.7 227.9 L273.7 228.9 L273.8 230.0 L273.9 231.0 L273.9 232.1 L274.0 233.2 L274.1 234.3 L274.2 235.3 L274.2 236.4 L274.3 237.5 L274.4 238.6 L274.5 239.7 L274.5 240.8 L274.6 241.8 L274.7 242.8 L274.8 243.9 L274.8 244.9 L274.9 245.8 L275.0 246.8 L275.0 247.7 L275.1 248.6 L275.2 249.4 L275.2 250.2 L275.3 251.0 L275.3 251.7 L275.4 252.3 L275.4 252.9 L275.5 253.5 L275.5 254.0" fill="none" stroke="#3a3a3a" stroke-width="0.8" stroke-linejoin="round" clip-path="url(#ch)"/>
<path d="M272.3 203.0 L272.3 203.5 L272.4 204.1 L272.4 204.8 L272.4 205.5 L272.4 206.2 L272.5 207.0 L272.5 207.9 L272.6 208.8 L272.6 209.8 L272.6 210.7 L272.7 211.8 L272.7 212.8 L272.8 213.9 L272.8 215.0 L272.9 216.1 L272.9 217.2 L273.0 218.3 L273.0 219.4 L273.1 220.5 L273.2 221.7 L273.2 222.8 L273.3 223.8 L273.3 224.9 L273.4 226.0 L273.4 227.0 L273.5 228.0 L273.6 229.0 L273.6 230.0 L273.7 231.0 L273.8 232.0 L273.8 233.1 L273.9 234.2 L274.0 235.3 L274.0 236.4 L274.1 237.6 L274.2 238.7 L274.3 239.8 L274.4 240.9 L274.4 242.0 L274.5 243.1 L274.6 244.2 L274.7 245.2 L274.7 246.2 L274.8 247.2 L274.9 248.2 L274.9 249.1 L275.0 250.0 L275.1 250.8 L275.1 251.5 L275.2 252.2 L275.2 252.9 L275.3 253.5 L275.3 254.0" fill="none" stroke="#f03c3c" stroke-width="0.8" stroke-linejoin="round" clip-path="url(#ch)"/>
<path d="M272.3 220.0 L272.3 220.5 L272.4 221.1 L272.4 221.8 L272.5 222.6 L272.6 223.5 L272.6 224.4 L272.7 225.3 L272.8 226.4 L272.8 227.4 L272.9 228.5 L273.0 229.6 L273.1 230.7 L273.2 231.8 L273.2 232.9 L273.3 233.9 L273.4 235.0 L273.5 236.0 L273.6 236.9 L273.7 237.9 L273.7 238.9 L273.8 240.0 L273.9 241.1 L274.0 242.2 L274.1 243.3 L274.2 244.4 L274.3 245.5 L274.4 246.5 L274.5 247.6 L274.6 248.6 L274.7 249.6 L274.8 250.5 L274.9 251.4 L274.9 252.1 L275.0 252.9 L275.1 253.5 L275.1 254.0" fill="none" stroke="#2070e0" stroke-width="0.8" stroke-linejoin="round" clip-path="url(#ch)"/>
<path d="M286.5 254.6 L286.6 254.4 L286.7 254.0 L286.9 253.5 L287.0 252.8 L287.2 251.9 L287.4 251.0 L287.6 249.9 L287.8 248.9 L288.0 247.9 L288.2 246.9 L288.4 245.8 L288.6 244.7 L288.8 243.5 L289.1 242.2 L289.3 240.9 L289.6 239.8 L289.8 239.0 L290.1 238.7 L290.3 238.6 L290.6 238.6 L290.8 238.5 L291.1 238.0 L291.3 237.1 L291.6 235.8 L291.8 234.4 L292.1 233.0 L292.3 231.8 L292.5 230.7 L292.8 229.6 L293.0 228.4 L293.2 227.2 L293.4 226.0 L293.6 224.9 L293.8 223.9 L294.0 223.1 L294.2 222.3 L294.5 221.9 L294.7 221.8 L294.9 221.7 L295.2 221.5 L295.4 221.1 L295.6 220.4 L295.8 219.4 L296.0 218.2 L296.2 217.0 L296.4 215.8 L296.6 214.6 L296.7 213.5 L296.9 212.5 L297.1 211.5 L297.3 210.5 L297.5 209.4 L297.7 208.3 L297.8 207.2 L298.0 206.1 L298.2 205.1 L298.4 204.2 L298.5 203.6 L298.7 203.1 L298.9 202.9 L299.2 202.8 L299.4 202.8 L299.6 202.6 L299.9 202.1 L300.1 201.1 L300.4 199.9 L300.6 198.6 L300.8 197.3 L301.1 196.1 L301.3 195.1 L301.5 194.0 L301.8 193.0 L302.0 191.9 L302.2 190.8 L302.4 189.7 L302.7 188.8 L302.9 188.2 L303.1 187.9 L303.5 188.2 L303.9 188.8 L304.3 188.8 L304.7 187.9 L305.1 186.7 L305.5 185.6 L305.9 184.8 L306.3 183.8 L306.7 182.6 L307.3 181.4 L307.9 182.4 L308.5 183.9 L309.1 183.5 L309.7 182.0 L310.3 180.9 L311.0 179.4 L311.7 178.3 L312.4 179.9 L313.1 181.5 L313.9 180.4 L314.9 179.0 L316.0 177.5 L317.0 180.5 L318.0 181.3 L318.8 180.3 L319.6 179.7 L320.3 179.0 L321.0 180.7 L321.4 182.8 L321.9 184.3 L322.3 184.7 L322.7 184.5 L323.1 184.5 L323.6 184.7 L324.0 184.7 L324.4 184.6 L324.7 184.7 L325.1 185.6 L325.4 187.2 L325.8 189.2 L326.2 190.9 L326.6 191.6 L327.0 191.7 L327.4 191.6 L327.7 191.8 L328.1 192.0 L328.5 192.0 L328.9 191.9 L329.3 192.3 L329.7 193.8 L330.1 196.1 L330.6 198.0 L331.0 198.8 L331.4 198.8 L331.8 198.7 L332.2 198.8 L332.6 199.0 L333.0 198.8 L333.4 198.8 L333.9 199.6 L334.3 201.5 L334.7 203.7 L335.2 205.1 L335.6 205.4 L336.0 205.3 L336.4 205.3 L336.7 205.5 L337.1 205.6 L337.4 205.5 L337.7 205.5 L338.1 205.9 L338.4 207.0 L338.8 208.9 L339.2 210.8 L339.6 212.1 L340.0 212.4 L340.5 212.3 L341.0 212.5 L341.3 212.7 L341.6 212.7 L342.0 212.6 L342.3 212.7 L342.7 213.6 L343.0 215.2 L343.4 217.2 L343.8 218.9 L344.2 219.6 L344.6 219.6 L345.0 219.5 L345.4 219.7 L345.8 219.9 L346.2 219.9 L346.6 219.9 L347.1 220.7 L347.5 222.6 L347.9 224.9 L348.3 226.3 L348.7 226.7 L349.2 226.6 L349.6 226.6 L350.0 226.8 L350.4 226.8 L350.8 226.6 L351.2 226.9 L351.6 228.1 L352.0 230.2 L352.5 232.1 L352.9 233.1 L353.3 233.1 L353.7 233.0 L354.2 233.0 L354.6 233.2 L355.0 233.0 L355.5 232.9 L355.9 233.8 L356.3 235.7 L356.7 237.8 L357.2 239.1 L357.6 239.3 L358.0 239.1 L358.4 239.0 L358.8 239.2 L359.2 239.1 L359.6 238.9 L360.0 239.1 L360.5 240.5 L361.0 243.1 L361.5 244.9 L362.0 245.2 L362.5 244.9 L363.0 245.0 L363.5 245.0 L364.0 244.7 L364.5 245.1 L365.0 246.9 L365.5 249.2 L365.9 250.7 L366.4 250.9 L366.8 250.6 L367.2 250.5 L367.6 250.6 L367.9 250.6 L368.2 250.4 L368.5 250.3 L369.4 252.4 L369.8 254.4 L369.9 254.9 L370.0 254.0" fill="none" stroke="#3a3a3a" stroke-width="0.95" stroke-linejoin="round" clip-path="url(#ch)"/>
<path d="M296.5 253.6 L296.6 253.0 L296.8 252.4 L296.9 251.7 L297.1 251.0 L297.2 250.3 L297.4 249.5 L297.6 248.5 L297.8 247.4 L298.0 246.4 L298.3 245.4 L298.5 244.6 L298.7 244.2 L299.0 244.1 L299.2 244.2 L299.5 244.3 L299.7 244.1 L300.0 243.5 L300.2 242.5 L300.5 241.2 L300.8 239.8 L301.1 238.5 L301.3 237.3 L301.6 236.1 L301.9 234.8 L302.2 233.4 L302.4 232.0 L302.7 230.7 L303.0 229.9 L303.2 229.6 L303.5 229.6 L303.8 229.8 L304.0 229.7 L304.3 229.3 L304.5 228.5 L304.8 227.4 L305.0 226.2 L305.2 224.9 L305.5 223.8 L305.7 222.7 L305.9 221.7 L306.2 220.5 L306.4 219.3 L306.7 218.0 L306.9 216.8 L307.1 215.7 L307.4 214.9 L307.6 214.6 L307.9 214.5 L308.1 214.6 L308.4 214.6 L308.6 214.3 L308.8 213.6 L309.1 212.5 L309.3 211.3 L309.5 210.0 L309.8 208.8 L310.0 207.6 L310.2 206.6 L310.5 205.6 L310.7 204.5 L310.9 203.3 L311.1 202.1 L311.4 201.0 L311.6 200.1 L311.8 199.5 L312.0 199.2 L312.2 199.2 L312.4 199.2 L312.6 199.3 L312.7 199.4 L312.9 199.2 L313.1 198.9 L313.5 197.5 L313.9 195.7 L314.2 194.1 L314.5 192.9 L314.8 191.8 L315.1 190.7 L315.3 189.6 L315.6 188.5 L315.8 187.5 L316.1 186.9 L316.3 186.7 L316.6 186.8 L316.8 187.3 L317.1 187.7 L317.4 187.8 L317.8 187.1 L318.2 185.8 L318.6 184.3 L319.0 183.1 L319.4 182.0 L319.8 180.6 L320.2 179.3 L320.6 178.8 L321.0 179.3 L321.4 180.2 L321.8 180.6 L322.1 180.3 L322.4 179.5 L323.1 177.3 L323.6 176.3 L324.0 175.4 L324.6 174.2 L325.4 174.9 L326.3 177.4 L327.2 176.2 L328.1 175.3 L328.7 174.6 L329.2 174.3 L329.8 176.0 L330.4 178.7 L331.0 179.7 L331.7 179.2 L332.1 179.1 L332.6 179.0 L333.1 178.6 L333.7 178.7 L334.2 180.4 L334.7 182.9 L335.3 184.2 L335.8 184.1 L336.3 183.8 L336.7 183.9 L337.2 183.9 L337.6 183.7 L338.0 183.8 L338.3 184.7 L338.7 186.4 L339.0 188.4 L339.4 189.9 L339.8 190.5 L340.3 190.5 L340.6 190.4 L341.0 190.6 L341.3 190.8 L341.7 190.8 L342.1 190.7 L342.5 191.1 L342.9 192.5 L343.3 194.6 L343.7 196.6 L344.1 197.7 L344.5 197.9 L344.9 197.9 L345.3 198.1 L345.6 198.4 L345.9 198.6 L346.2 198.6 L346.5 198.6 L346.8 199.0 L347.1 200.0 L347.4 201.6 L347.7 203.4 L348.1 205.0 L348.4 206.1 L348.7 206.6 L349.1 206.7 L349.4 206.8 L349.8 207.3 L350.2 207.7 L350.6 207.9 L351.0 208.2 L351.2 208.6 L351.5 209.5 L351.7 210.8 L352.0 212.3 L352.3 213.9 L352.5 215.3 L352.8 216.3 L353.1 216.8 L353.3 217.0 L353.6 217.2 L353.9 217.5 L354.2 217.9 L354.5 218.3 L354.8 218.6 L355.1 218.8 L355.4 219.1 L355.7 219.7 L356.0 221.0 L356.3 222.8 L356.6 224.7 L356.9 226.3 L357.2 227.4 L357.5 227.9 L357.8 228.1 L358.1 228.3 L358.5 228.6 L358.8 229.0 L359.1 229.3 L359.4 229.5 L359.7 229.6 L360.0 230.1 L360.3 231.1 L360.7 232.9 L361.0 234.9 L361.4 236.6 L361.7 237.6 L362.1 237.8 L362.5 237.9 L362.8 238.1 L363.2 238.5 L363.6 238.7 L364.0 238.7 L364.4 239.1 L364.7 240.2 L365.1 242.2 L365.5 244.3 L365.9 245.8 L366.2 246.5 L366.6 246.6 L367.0 246.6 L367.3 246.8 L367.6 247.1 L368.0 247.3 L368.3 247.3 L368.6 247.4 L368.8 247.8 L369.1 248.7 L369.4 249.8 L369.6 251.2 L369.8 252.4 L370.0 253.4 L370.9 255.2 L371.1 255.2 L371.0 255.2 L371.0 254.0" fill="none" stroke="#f03c3c" stroke-width="0.95" stroke-linejoin="round" clip-path="url(#ch)"/>
<path d="M301.5 252.9 L301.6 252.4 L301.8 251.7 L301.9 251.0 L302.1 250.1 L302.3 249.2 L302.5 248.3 L302.7 247.4 L302.9 246.7 L303.1 246.3 L303.3 246.2 L303.6 246.3 L303.8 246.4 L304.1 246.4 L304.3 245.9 L304.6 244.9 L304.9 243.7 L305.1 242.3 L305.4 240.9 L305.7 239.7 L306.0 238.5 L306.3 237.2 L306.6 235.8 L306.8 234.4 L307.1 233.2 L307.4 232.4 L307.7 232.2 L308.0 232.3 L308.2 232.5 L308.5 232.3 L308.8 231.8 L309.0 230.9 L309.3 229.7 L309.5 228.4 L309.8 227.2 L310.0 226.2 L310.3 225.1 L310.5 224.0 L310.8 222.7 L311.1 221.4 L311.3 220.1 L311.6 219.0 L311.9 218.4 L312.1 218.2 L312.4 218.3 L312.6 218.5 L312.9 218.4 L313.2 217.9 L313.4 216.9 L313.7 215.7 L313.9 214.4 L314.2 213.2 L314.4 212.1 L314.7 211.1 L314.9 210.0 L315.2 208.9 L315.4 207.7 L315.6 206.6 L315.9 205.6 L316.1 204.9 L316.3 204.5 L316.5 204.5 L316.8 204.6 L317.0 204.9 L317.2 204.9 L317.4 204.8 L317.8 203.8 L318.1 202.3 L318.5 200.8 L318.8 199.5 L319.2 198.4 L319.5 197.3 L319.8 196.1 L320.1 194.9 L320.4 194.0 L320.7 193.7 L321.0 194.0 L321.3 194.5 L321.5 194.9 L321.8 195.0 L322.1 194.5 L322.4 193.5 L322.8 192.0 L323.1 190.7 L323.5 189.6 L323.9 188.5 L324.2 187.1 L324.5 185.9 L324.9 185.1 L325.2 185.1 L325.6 185.7 L326.0 186.4 L326.3 186.5 L326.7 185.7 L327.2 184.2 L327.7 182.9 L328.1 181.8 L328.6 180.4 L329.2 179.3 L329.7 179.5 L330.2 180.9 L330.7 181.7 L331.2 180.9 L331.7 179.6 L332.3 178.4 L332.9 177.0 L333.6 175.6 L334.2 176.4 L334.8 178.2 L335.4 178.2 L336.1 176.8 L336.7 175.9 L337.7 174.1 L338.7 175.6 L339.8 177.9 L340.7 176.5 L341.7 175.6 L342.3 174.9 L343.0 176.3 L343.6 178.8 L344.1 179.9 L344.7 179.3 L345.4 179.0 L346.0 178.7 L346.5 178.2 L347.0 178.5 L347.5 180.3 L348.0 182.6 L348.5 183.7 L349.0 183.4 L349.5 183.1 L350.0 183.1 L350.5 182.9 L351.0 182.7 L351.5 183.4 L351.9 185.3 L352.3 187.6 L352.8 188.9 L353.2 189.2 L353.6 189.1 L354.0 189.2 L354.5 189.4 L354.9 189.4 L355.3 189.3 L355.7 189.8 L356.1 191.3 L356.6 193.4 L357.0 195.1 L357.4 195.8 L357.8 195.8 L358.2 195.7 L358.7 195.9 L359.1 196.0 L359.6 196.0 L359.9 196.2 L360.2 196.9 L360.5 198.2 L360.8 200.0 L361.1 201.6 L361.5 202.9 L361.8 203.5 L362.1 203.6 L362.5 203.7 L362.8 203.9 L363.2 204.3 L363.6 204.5 L364.0 204.5 L364.5 205.2 L365.0 207.2 L365.3 208.8 L365.6 210.3 L365.8 211.5 L366.1 212.1 L366.5 212.3 L366.8 212.3 L367.1 212.4 L367.4 212.7 L367.8 213.0 L368.1 213.1 L368.5 213.1 L368.8 213.5 L369.2 214.6 L369.5 216.5 L369.9 218.6 L370.3 220.1 L370.6 220.7 L371.0 220.8 L371.4 220.8 L371.7 221.1 L372.1 221.4 L372.5 221.5 L372.9 221.5 L373.2 221.9 L373.6 223.0 L373.9 224.9 L374.3 226.9 L374.7 228.2 L375.0 228.8 L375.4 228.9 L375.8 228.8 L376.2 229.1 L376.6 229.3 L377.0 229.3 L377.4 229.2 L377.8 229.9 L378.2 231.5 L378.6 233.7 L379.0 235.5 L379.4 236.2 L379.8 236.2 L380.2 236.1 L380.6 236.3 L381.0 236.5 L381.4 236.4 L381.8 236.3 L382.1 236.8 L382.5 238.3 L382.9 240.2 L383.3 241.9 L383.6 242.9 L384.0 243.1 L384.3 242.9 L384.7 242.9 L385.0 243.0 L385.5 243.1 L386.1 242.9 L386.6 243.4 L387.1 245.4 L387.6 247.9 L388.1 249.1 L388.5 249.1 L389.0 248.8 L389.4 248.9 L389.9 248.9 L390.3 248.6 L390.7 248.5 L391.0 249.1 L391.4 250.4 L391.7 252.0 L392.0 253.4 L392.9 254.4 L393.4 254.0 L393.8 253.8 L394.0 254.0" fill="none" stroke="#2070e0" stroke-width="0.95" stroke-linejoin="round" clip-path="url(#ch)"/>
<path d="M415.0 253.1 L415.5 252.6 L416.1 252.7 L416.8 252.3 L417.6 251.9 L418.4 251.6 L419.2 251.4 L420.0 251.0 L420.8 250.8 L421.7 250.4 L422.5 250.4 L423.3 249.9 L424.2 250.0 L425.0 249.4 L426.0 249.5 L427.2 249.0 L428.2 248.7 L429.2 249.0 L429.8 248.5" fill="none" stroke="#3a3a3a" stroke-width="0.8" stroke-linejoin="round" clip-path="url(#ch)"/>
<line x1="375.3" y1="168.3" x2="398" y2="168.3" stroke="#3a3a3a" stroke-width="0.9"/>
<text x="401.5" y="171.9" font-size="10.6" font-weight="bold" fill="#000">40 cm</text>
<line x1="375.3" y1="181.8" x2="398" y2="181.8" stroke="#f03c3c" stroke-width="0.9"/>
<text x="401.5" y="185.4" font-size="10.6" font-weight="bold" fill="#000">50 cm</text>
<line x1="375.3" y1="195" x2="398" y2="195" stroke="#2070e0" stroke-width="0.9"/>
<text x="401.5" y="198.6" font-size="10.6" font-weight="bold" fill="#000">60 cm</text>
</svg></body></html>
